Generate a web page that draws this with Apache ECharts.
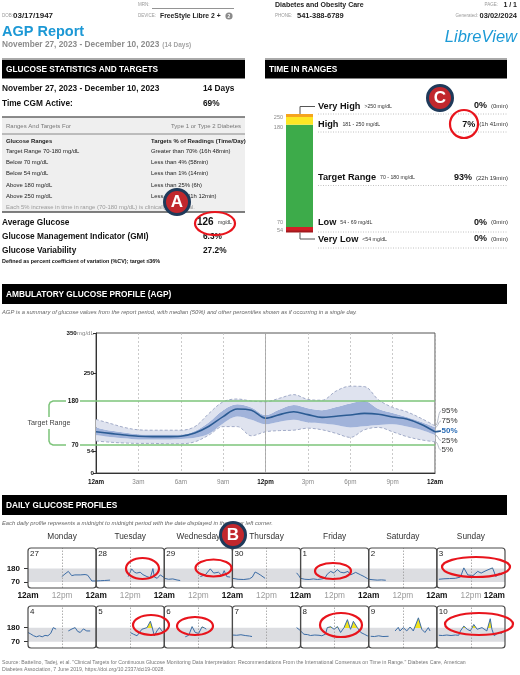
<!DOCTYPE html>
<html>
<head>
<meta charset="utf-8">
<title>AGP Report</title>
<script src="https://cdn.jsdelivr.net/npm/echarts@6/dist/echarts.min.js"></script>
<style>
  html, body { margin: 0; padding: 0; background: #fff; }
  #chart { width: 520px; height: 675px; }
</style>
</head>
<body>
<div id="chart"></div>
<script>
// AGP percentiles, one reading per hour, 12am -> 12am
const hours = [0, 1, 2, 3, 4, 5, 6, 7, 8, 9, 10, 11, 12, 13, 14, 15, 16, 17, 18, 19, 20, 21, 22, 23, 24];
const p5  = [80, 77, 75, 74, 74, 73, 73, 78, 95, 116, 116, 93, 103, 106, 107, 112, 108, 99, 89, 108, 114, 103, 91, 83, 78];
const p25 = [95, 90, 87, 84, 84, 84, 85, 88, 98, 124, 141, 133, 122, 128, 133, 126, 124, 120, 114, 117, 120, 122, 116, 108, 95];
const p50 = [103, 99, 95, 92, 91, 91, 92, 100, 117, 141, 160, 157, 137, 146, 153, 146, 139, 142, 145, 149, 147, 140, 135, 122, 103];
const p75 = [114, 106, 101, 97, 96, 96, 96, 105, 127, 157, 172, 164, 145, 159, 170, 162, 157, 165, 174, 180, 160, 150, 140, 128, 114];
const p95 = [134, 124, 114, 108, 107, 107, 107, 116, 149, 178, 185, 180, 178, 187, 196, 184, 182, 205, 217, 216, 183, 164, 153, 137, 118];
const agpTickLabels = ['12am', '3am', '6am', '9am', '12pm', '3pm', '6pm', '9pm', '12am'];
const agpYTicks = [0, 54, 250, 350];

// time in ranges, bottom -> top
const tirNames  = ['Very Low', 'Low', 'Target Range', 'High', 'Very High'];
const tirRanges = ['<54 mg/dL', '54 - 69 mg/dL', '70 - 180 mg/dL', '181 - 250 mg/dL', '>250 mg/dL'];
const tirValues = [0, 0, 93, 7, 0];
const tirTimes  = ['(0min)', '(0min)', '(22h 19min)', '(1h 41min)', '(0min)'];
const tirBarLabels = ['54', '70', '180', '250'];

// daily profiles: [hour, mg/dL], null = no data
const weekDays = ['Monday', 'Tuesday', 'Wednesday', 'Thursday', 'Friday', 'Saturday', 'Sunday'];
const dayDates = [27, 28, 29, 30, 1, 2, 3, 4, 5, 6, 7, 8, 9, 10];
const day27 = [[11.9,114],[13,135],[14.2,157],[15.4,122],[16.5,128],[18.4,128],[20.1,131],[21,126],[22.5,78],[24,78]];
const day28 = [[0,78],[1.5,80],[3,82],[4.9,85],[5,null],[11.3,114],[12.5,178],[13.5,150],[14.3,143],[15.5,150],[16.5,130],[17.9,114],[19.1,105],[20,180],[20.5,110],[21.5,100],[22.6,128],[24,105]];
const day29 = [[0,100],[1.5,92],[3,95],[4.5,86],[5.6,82],[5.7,null],[12.7,114],[14.5,130],[16.2,178],[17.4,143],[19.1,150],[20.3,122],[21.1,163],[22,114],[23.2,110]];
const day30 = [[0,100],[2,92],[4,90],[6,96],[7,110],[8,152],[9,140],[10,125],[11.5,100],[11.6,null],[22.6,145],[23.3,125],[24,100]];
const day1  = [[0,100],[1.5,92],[3,90],[4.5,95],[6,90],[7.5,95],[8.5,100],[9.4,134],[10.6,157],[11.8,143],[12.9,172],[14.1,150],[15.3,145],[16.7,157],[17.6,128],[19.4,149],[21.2,128],[22.4,114],[23.5,99],[24,92]];
const day2  = [[0,92],[1.5,88],[3,85],[4.5,87],[6,84]];
const day3  = [[0.7,92],[2.5,96],[4.5,98],[6.5,100],[8.3,110],[9.5,186],[10.9,128],[12.7,122],[14.4,157],[15.6,143],[17.3,163],[19.6,186],[20.8,114],[22,143],[23,128]];
const day4  = [[0,142],[1,130],[2,116],[3,108],[4,116],[5,108],[6,119],[7,116],[8,135],[8.9,180],[9.9,168],[10,null],[14.2,154],[15.5,170],[16.6,180],[17.5,150],[18.4,142],[19.5,170],[20.7,154],[21.9,154]];
const day5  = [[12,142],[13.2,128],[14.4,116],[16.1,167],[17.9,180],[19.1,230],[19.7,185],[20.5,116],[21.4,154],[22.3,180],[23.2,154],[24,135]];
const day6  = [[7.4,108],[8.6,120],[9.8,188],[10.9,142],[12.1,135],[13.3,186],[14.1,178],[14.8,168]];
const day7  = [[0,122],[1.5,120],[3,124],[4.5,118],[6,114],[6.9,110],[7,null],[22.6,180],[23.5,165],[24,154]];
const day8  = [[0,154],[1.2,128],[2.5,125],[3.5,118],[5,122],[6.5,120],[7.5,116],[8.8,129],[9.4,180],[10.6,187],[11.8,167],[13,188],[14.1,142],[15.3,180],[16.5,243],[17.6,167],[18.6,230],[20,180],[21.2,142],[22.4,129],[23.5,116],[24,116]];
const day9  = [[0.7,112],[2,110],[3.5,116],[5,110],[7,112],[7.1,null],[9.3,154],[10.4,182],[11,154],[12.2,180],[13.4,154],[14.6,185],[15.7,154],[17.5,257],[18.7,167],[19.8,142],[21,180],[21.6,154]];
const day10 = [[0.7,120],[2,118],[3.5,122],[5,118],[6.5,122],[7.7,120],[8.3,154],[9.5,192],[10.7,167],[11.8,154],[13,205],[14.2,167],[15.9,180],[17.6,154],[18.8,250],[19.4,167],[20.2,116],[20.9,104],[21.7,142],[22.9,135]];
const days = [day27, day28, day29, day30, day1, day2, day3, day4, day5, day6, day7, day8, day9, day10];

const FONT = '"Liberation Sans", Arial, Helvetica, sans-serif';
const chart = echarts.init(document.getElementById('chart'), null, { renderer: 'canvas' });
const ctx = document.createElement('canvas').getContext('2d');
function fontOf(o) { return (o.i ? 'italic ' : '') + (o.b ? 'bold ' : '') + (o.s || 7) + 'px ' + FONT; }
function textW(t, o) { ctx.font = fontOf(o); return ctx.measureText(t).width; }

const grid = [], xAxis = [], yAxis = [], series = [];

// ---- AGP ----
grid.push({ left: 96, top: 333, width: 339, height: 140, show: true, borderColor: '#555', borderWidth: 1 });
xAxis.push({
  gridIndex: 0, type: 'category', data: hours.map(String), boundaryGap: false,
  axisLine: { show: true, lineStyle: { color: '#333' } }, axisTick: { show: false },
  splitLine: { show: true, interval: 2, lineStyle: { color: '#bdbdbd', type: [2, 2], width: 0.8 } },
  axisLabel: {
    margin: 6, interval: 2,
    formatter: (v, i) => (i % 12 === 0 ? '{b|' : '{g|') + agpTickLabels[i / 3] + '}',
    rich: { b: { fontFamily: FONT, fontSize: 6.3, fontWeight: 'bold', color: '#111' },
            g: { fontFamily: FONT, fontSize: 6.3, color: '#8a8a8a' } }
  }
});
yAxis.push({
  gridIndex: 0, type: 'value', min: 0, max: 350,
  axisLine: { show: true, lineStyle: { color: '#333' } },
  axisTick: { show: true, length: 3, customValues: agpYTicks, lineStyle: { color: '#333' } },
  axisLabel: {
    customValues: agpYTicks, margin: 2,
    formatter: v => v === 350 ? '{b|350}{u|mg/dL}' : '{b|' + v + '}',
    rich: { b: { fontFamily: FONT, fontSize: 6.2, fontWeight: 'bold', color: '#111' },
            u: { fontFamily: FONT, fontSize: 6.2, color: '#8a8a8a' } }
  },
  splitLine: { show: false }
});
const diff = (a, b) => a.map((v, i) => v - b[i]);
const dashed = { color: '#8e99bb', width: 0.8, type: [3, 2] };
function band(vals, area, line) {
  return {
    type: 'line', xAxisIndex: 0, yAxisIndex: 0, stack: 'agp', smooth: 0.35, symbol: 'none', silent: true,
    data: vals, lineStyle: line || { width: 0 },
    areaStyle: area ? { color: area, opacity: 1 } : undefined, z: 2
  };
}
series.push(band(p5, null, dashed));
series.push(band(diff(p25, p5), '#dfe3ef'));
series.push(band(diff(p75, p25), '#a1b3da'));
series.push(band(diff(p95, p75), '#dfe3ef', dashed));
series.push({
  type: 'line', xAxisIndex: 0, yAxisIndex: 0, smooth: 0.35, symbol: 'none', silent: true,
  data: p50, lineStyle: { color: '#2b5b93', width: 1.6 }, z: 4,
  markLine: {
    silent: true, symbol: 'none', label: { show: false },
    data: [
      { xAxis: '12', lineStyle: { color: '#a0a0a0', type: 'solid', width: 0.8 } },
      { yAxis: 180, lineStyle: { color: '#7cc47a', type: 'solid', width: 1.5 } },
      { yAxis: 70, lineStyle: { color: '#7cc47a', type: 'solid', width: 1.5 } }
    ]
  }
});

// ---- Time in ranges bar ----
grid.push({ left: 286, top: 117, width: 27, height: 110 });
xAxis.push({ gridIndex: 1, type: 'category', data: [''], show: false });
yAxis.push({ gridIndex: 1, type: 'value', min: 0, max: 100, show: false });
const tirColors = ['#a3181d', '#d42027', '#3dab4a', '#fde725', '#f5a41e'];
let acc = 0;
const tirData = tirValues.map(v => { const d = [0, acc, acc + v]; acc += v; return d; });
series.push({
  type: 'custom', xAxisIndex: 1, yAxisIndex: 1, silent: true, data: tirData,
  renderItem(params, api) {
    const i = params.dataIndex, lo = api.value(1), hi = api.value(2);
    const cs = params.coordSys;
    let yTop = api.coord([0, hi])[1], yBot = api.coord([0, lo])[1];
    if (yBot - yTop < 1) {
      if (lo <= 0) { yTop = yBot; yBot += (i === 0 ? 5.5 : 3.5); }
      else { yBot = yTop; yTop -= 3; }
    }
    return { type: 'rect', shape: { x: cs.x, y: yTop, width: cs.width, height: yBot - yTop }, style: { fill: tirColors[i] } };
  }
});

// ---- Daily profiles ----
const BOX_L = 28, BOX_W = (505 - 28) / 7, ROW_TOP = [548, 606], ROW_H = [40, 42];
const Y_MIN = 20, Y_MAX = 350;
const dayRich = {
  b: { fontFamily: FONT, fontSize: 8.3, fontWeight: 'bold', color: '#111' },
  g: { fontFamily: FONT, fontSize: 8.3, color: '#9a9a9a' }
};
days.forEach((d, k) => {
  const row = Math.floor(k / 7), col = k % 7, gi = k + 2;
  const top = ROW_TOP[row], h = ROW_H[row];
  grid.push({ left: BOX_L + col * BOX_W, top, width: BOX_W, height: h });
  xAxis.push({
    gridIndex: gi, type: 'value', min: 0, max: 24, interval: 12,
    axisLine: { show: false }, axisTick: { show: false }, splitLine: { show: false },
    axisLabel: row === 0 ? {
      margin: 4, showMinLabel: true, showMaxLabel: true,
      alignMaxLabel: col === 6 ? 'right' : undefined,
      formatter: v => v === 0 ? '{b|12am}' : v === 12 ? '{g|12pm}' : (col === 6 ? '{b|12am}' : ''),
      rich: dayRich
    } : { show: false }
  });
  yAxis.push({
    gridIndex: gi, type: 'value', min: Y_MIN, max: Y_MAX,
    axisLine: { show: false }, splitLine: { show: false },
    axisTick: col === 0 ? { show: true, length: 4, customValues: [70, 180], lineStyle: { color: '#333' } } : { show: false },
    axisLabel: col === 0 ? { customValues: [70, 180], margin: 8, fontFamily: FONT, fontSize: 8, fontWeight: 'bold', color: '#111' } : { show: false }
  });
  // yellow above 180: gradient in page pixels, cut at the 180 row of this box
  const f = (Y_MAX - 180) / (Y_MAX - Y_MIN);
  const clear = 'rgba(255,255,255,0)';
  series.push({
    type: 'line', xAxisIndex: gi, yAxisIndex: gi, data: d, symbol: 'none', silent: true,
    connectNulls: false, lineStyle: { width: 0 },
    areaStyle: { opacity: 1, origin: 'start', color: {
      type: 'linear', global: true, x: 0, y: top, x2: 0, y2: top + h,
      colorStops: [{ offset: 0, color: '#f3e41d' }, { offset: f, color: '#f3e41d' }, { offset: f, color: clear }, { offset: 1, color: clear }]
    } },
    z: 2,
    markArea: { silent: true, itemStyle: { color: '#dcdde1' }, data: [[{ yAxis: 70 }, { yAxis: 180 }]] }
  });
  series.push({
    type: 'line', xAxisIndex: gi, yAxisIndex: gi, data: d, symbol: 'none', silent: true,
    connectNulls: false, lineStyle: { color: '#3b6ca6', width: 1 }, z: 3,
    markLine: { silent: true, symbol: 'none', label: { show: false },
      lineStyle: { color: '#9a9a9a', type: [1.5, 1.5], width: 0.8 }, data: [{ xAxis: 12 }] }
  });
});

chart.setOption({
  animation: false,
  backgroundColor: '#fff',
  grid, xAxis, yAxis, series
});

// ---- page text and decorations ----
function txt(x, y, text, o) {
  o = o || {};
  const a = o.a || 'left';
  return { type: 'text', x, y, silent: true, z: o.z || 20,
    style: { text, font: fontOf(o), fill: o.c || '#222', align: a, textAlign: a, verticalAlign: 'middle', textVerticalAlign: 'middle' } };
}
function hline(x1, y, x2, stroke, w, dash) {
  return { type: 'line', silent: true, z: 15, shape: { x1, y1: y, x2, y2: y }, style: { stroke, lineWidth: w || 1, lineDash: dash || null } };
}
function rect(x, y, w, h, fill, z) {
  return { type: 'rect', silent: true, z: z || 1, shape: { x, y, width: w, height: h }, style: { fill } };
}
function header(x, y, w, h, title) {
  return [rect(x, y, w, h, '#000', 1), txt(x + 4, y + h / 2 + 0.5, title, { s: 8.3, b: 1, c: '#fff' })];
}
function badge(cx, cy, letter) {
  return [
    { type: 'circle', silent: true, z: 50, shape: { cx, cy, r: 12.5 }, style: { fill: '#c1272d', stroke: '#1f3a5a', lineWidth: 3 } },
    txt(cx, cy + 0.5, letter, { s: 17, b: 1, c: '#fff', a: 'center', z: 51 })
  ];
}
function ring(cx, cy, rx, ry) {
  return { type: 'ellipse', silent: true, z: 45, shape: { cx, cy, rx, ry }, style: { fill: null, stroke: '#e8141c', lineWidth: 2.2 } };
}
const G = [];

// report header
G.push(txt(2, 16, 'DOB:', { s: 4.5, c: '#999' }), txt(13, 16, '03/17/1947', { s: 8, b: 1 }));
G.push(txt(138, 5, 'MRN:', { s: 4.5, c: '#999' }), hline(152, 8.5, 234, '#666', 0.7));
G.push(txt(138, 16, 'DEVICE:', { s: 4.5, c: '#999' }), txt(160, 16, 'FreeStyle Libre 2 +', { s: 6.8, b: 1 }));
G.push({ type: 'circle', silent: true, z: 20, shape: { cx: 229, cy: 16, r: 3.6 }, style: { fill: '#8a8a8a' } },
       txt(229, 16.3, '2', { s: 5, b: 1, c: '#fff', a: 'center', z: 21 }));
G.push(txt(275, 5, 'Diabetes and Obesity Care', { s: 7, b: 1 }));
G.push(txt(275, 16, 'PHONE:', { s: 4.5, c: '#999' }), txt(297, 16, '541-388-6789', { s: 7.5, b: 1 }));
G.push(txt(498, 5, 'PAGE:', { s: 4.5, c: '#999', a: 'right' }), txt(517, 5, '1 / 1', { s: 7, b: 1, a: 'right' }));
G.push(txt(478, 16, 'Generated:', { s: 4.5, c: '#999', a: 'right' }), txt(517, 16, '03/02/2024', { s: 7.5, b: 1, a: 'right' }));
G.push(txt(2, 31.5, 'AGP Report', { s: 14.5, b: 1, c: '#1c98d5' }));
const period = 'November 27, 2023 - December 10, 2023';
G.push(txt(2, 45, period, { s: 8.3, b: 1, c: '#8c8c8c' }));
G.push(txt(2 + textW(period, { s: 8.3, b: 1 }) + 3, 45.5, '(14 Days)', { s: 6.5, b: 1, c: '#a5a5a5' }));
G.push(txt(517, 37.5, 'LibreView', { s: 16.5, i: 1, c: '#1c9ad6', a: 'right' }));
G.push(hline(2, 59, 245, '#555', 1), hline(265, 59, 507, '#555', 1));

// glucose statistics
G.push(...header(2, 60, 243, 18.5, 'GLUCOSE STATISTICS AND TARGETS'));
G.push(txt(2, 89, period, { s: 8.3, b: 1, c: '#111' }), txt(203, 89, '14 Days', { s: 8.3, b: 1, c: '#111' }));
G.push(txt(2, 104, 'Time CGM Active:', { s: 8.3, b: 1, c: '#111' }), txt(203, 104, '69%', { s: 8.3, b: 1, c: '#111' }));
G.push(rect(2, 117, 243, 95, '#efefef', 1));
G.push(hline(2, 117, 245, '#666', 1.5), hline(2, 134, 245, '#888', 1), hline(2, 212, 245, '#555', 1.5));
G.push(txt(6, 126, 'Ranges And Targets For', { s: 6, c: '#777' }), txt(241, 126, 'Type 1 or Type 2 Diabetes', { s: 6, c: '#777', a: 'right' }));
const rangeRows = [
  ['Glucose Ranges', 'Targets % of Readings (Time/Day)', 141.7, 1],
  ['Target Range 70-180 mg/dL', 'Greater than 70% (16h 48min)', 151.5, 0],
  ['Below 70 mg/dL', 'Less than 4% (58min)', 162.7, 0],
  ['Below 54 mg/dL', 'Less than 1% (14min)', 173.7, 0],
  ['Above 180 mg/dL', 'Less than 25% (6h)', 185, 0],
  ['Above 250 mg/dL', 'Less than 5% (1h 12min)', 196.3, 0]
];
rangeRows.forEach(r => {
  G.push(txt(6, r[2], r[0], { s: 5.9, b: r[3], c: '#222' }), txt(151, r[2], r[1], { s: 5.9, b: r[3], c: '#222' }));
});
G.push(txt(6, 207.5, 'Each 5% increase in time in range (70-180 mg/dL) is clinically beneficial.', { s: 5.9, c: '#9a9a9a' }));
G.push(txt(2, 222.5, 'Average Glucose', { s: 8.3, b: 1, c: '#111' }), txt(197, 222, '126', { s: 10, b: 1, c: '#111' }), txt(218, 223, 'mg/dL', { s: 5, c: '#333' }));
G.push(txt(2, 237, 'Glucose Management Indicator (GMI)', { s: 8.3, b: 1, c: '#111' }), txt(203, 237, '6.3%', { s: 8.3, b: 1, c: '#111' }));
G.push(txt(2, 251, 'Glucose Variability', { s: 8.3, b: 1, c: '#111' }), txt(203, 251, '27.2%', { s: 8.3, b: 1, c: '#111' }));
G.push(txt(2, 262, 'Defined as percent coefficient of variation (%CV); target \u226436%', { s: 5.4, b: 1, c: '#111' }));
G.push(ring(215, 223.5, 20, 11.5), ...badge(177, 202, 'A'));

// time in ranges
G.push(...header(265, 60, 242, 18.5, 'TIME IN RANGES'));
const tirRowY = [239, 222.3, 177.5, 124.3, 106];
const tirBarLabelY = [230, 222, 127.3, 117.5];
tirBarLabels.forEach((t, i) => G.push(txt(283, tirBarLabelY[i], t, { s: 5.5, c: '#8a8a8a', a: 'right' })));
tirNames.forEach((name, i) => {
  const y = tirRowY[i];
  const nw = textW(name, { s: 9.2, b: 1 });
  const tw = textW(tirTimes[i], { s: 6 });
  G.push(txt(318, y, name, { s: 9.2, b: 1, c: '#111' }));
  G.push(txt(318 + nw + 4, y + 0.5, tirRanges[i], { s: 5.2, c: '#333' }));
  G.push(txt(508, y + 0.5, tirTimes[i], { s: 6, c: '#333', a: 'right' }));
  G.push(txt(508 - tw - 4, y, tirValues[i] + '%', { s: 9, b: 1, c: '#111', a: 'right' }));
});
[114, 132, 185.5, 232, 248].forEach(y => G.push(hline(318, y, 508, '#b0b0b0', 0.8, [1, 1.5])));
G.push({ type: 'polyline', silent: true, z: 15, shape: { points: [[300, 114], [300, 106.5], [315, 106.5]] }, style: { stroke: '#555', lineWidth: 1, fill: null } });
G.push({ type: 'polyline', silent: true, z: 15, shape: { points: [[300, 232.5], [300, 239], [315, 239]] }, style: { stroke: '#555', lineWidth: 1, fill: null } });
G.push(ring(464, 124, 14, 14), ...badge(440, 98, 'C'));

// AGP section
G.push(...header(2, 284, 505, 20, 'AMBULATORY GLUCOSE PROFILE (AGP)'));
G.push(txt(2, 312.5, 'AGP is a summary of glucose values from the report period, with median (50%) and other percentiles shown as if occurring in a single day.', { s: 5.8, i: 1, c: '#666' }));
const px = (x, y) => chart.convertToPixel({ gridIndex: 0 }, [x, y]);
const y180 = px(0, 180)[1], y70 = px(0, 70)[1], yMid = (y180 + y70) / 2;
const green = '#7cc47a';
G.push(hline(80, y180, 96, green, 1.5), hline(80, y70, 96, green, 1.5));
G.push(txt(78.5, y180, '180', { s: 6.4, b: 1, c: '#111', a: 'right' }), txt(78.5, y70, '70', { s: 6.4, b: 1, c: '#111', a: 'right' }));
G.push({ type: 'polyline', silent: true, z: 15, shape: { points: [[66, y180], [53, y180], [50.2, y180 + 1.2], [49, y180 + 4], [49, yMid - 6]] }, style: { stroke: green, lineWidth: 1.5, fill: null } });
G.push({ type: 'polyline', silent: true, z: 15, shape: { points: [[49, yMid + 6], [49, y70 - 4], [50.2, y70 - 1.2], [53, y70], [66, y70]] }, style: { stroke: green, lineWidth: 1.5, fill: null } });
G.push(txt(49, yMid, 'Target Range', { s: 7.2, c: '#444', a: 'center' }));
const pctNames = ['95%', '75%', '50%', '25%', '5%'];
const pctEnds = [p95[24], p75[24], p50[24], p25[24], p5[24]];
const pctLabelY = [411, 421, 431, 440.5, 450];
pctNames.forEach((n, i) => {
  const e = px(24, pctEnds[i]);
  const ly = pctLabelY[i];
  const isMed = i === 2;
  G.push({ type: 'bezierCurve', silent: true, z: 15,
    shape: { x1: e[0], y1: e[1], cpx1: e[0] + 3.5, cpy1: e[1], cpx2: e[0] + 3, cpy2: ly, x2: e[0] + 6, y2: ly },
    style: { stroke: isMed ? '#2b5b93' : '#9aa0b0', lineWidth: isMed ? 1.6 : 0.7, fill: null } });
  G.push(txt(e[0] + 6.5, ly, n, { s: 8, b: isMed, c: isMed ? '#2a6cb5' : '#333' }));
});

// daily profiles
G.push(...header(2, 495, 505, 20, 'DAILY GLUCOSE PROFILES'));
G.push(txt(2, 523, 'Each daily profile represents a midnight to midnight period with the date displayed in the upper left corner.', { s: 5.8, i: 1, c: '#666' }));
weekDays.forEach((w, i) => G.push(txt(BOX_L + (i + 0.5) * BOX_W, 537, w, { s: 8.3, c: '#333', a: 'center' })));
dayDates.forEach((dt, k) => {
  const row = Math.floor(k / 7), col = k % 7;
  const x = BOX_L + col * BOX_W, y = ROW_TOP[row];
  G.push({ type: 'rect', silent: true, z: 12, shape: { x, y, width: BOX_W, height: ROW_H[row], r: 3 }, style: { fill: null, stroke: '#4a4a4a', lineWidth: 1.2 } });
  G.push(txt(x + 2, y + 6, String(dt), { s: 8, c: '#222' }));
});
[[142.5, 568.5, 16.5, 10.5], [213.5, 568, 18, 8.5], [333, 571, 18, 8], [476, 567, 34, 10],
 [151, 625, 18, 10], [195, 626, 18, 9], [341, 625, 21, 12], [479, 624, 34, 11]].forEach(r => G.push(ring(r[0], r[1], r[2], r[3])));
G.push(...badge(233, 535, 'B'));

// source
G.push(txt(2, 663, 'Source: Battelino, Tadej, et al. "Clinical Targets for Continuous Glucose Monitoring Data Interpretation: Recommendations From the International Consensus on Time in Range." Diabetes Care, American', { s: 5.2, c: '#777' }));
G.push(txt(2, 669.5, 'Diabetes Association, 7 June 2019, https://doi.org/10.2337/dci19-0028.', { s: 5.2, c: '#777' }));

chart.setOption({ graphic: { elements: G } });
</script>
</body>
</html>
